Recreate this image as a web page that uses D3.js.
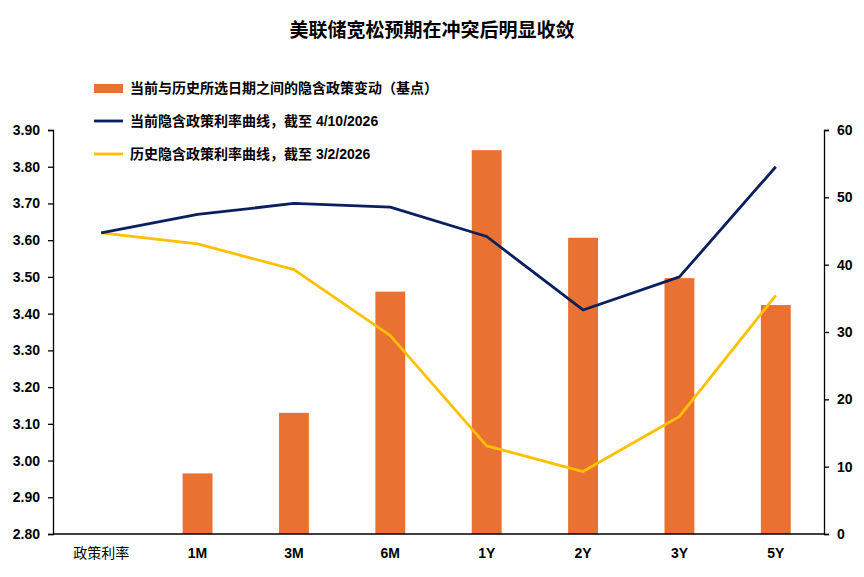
<!DOCTYPE html>
<html>
<head>
<meta charset="utf-8">
<script src="https://cdn.jsdelivr.net/npm/d3@7"></script>
<style>
  body { margin: 0; background: #fff; }
  text { font-family: "Liberation Sans", Arial, "Noto Sans CJK SC", sans-serif; }
</style>
</head>
<body>
<div id="wrapper"></div>
<script>
const categories = ["政策利率", "1M", "3M", "6M", "1Y", "2Y", "3Y", "5Y"];
const changeBp = [0, 9, 18, 36, 57, 44, 38, 34];
const currentCurve = [3.62, 3.67, 3.70, 3.69, 3.61, 3.41, 3.50, 3.80];
const historyCurve = [3.62, 3.59, 3.52, 3.34, 3.04, 2.97, 3.12, 3.45];
const leftTicks = [2.8, 2.9, 3.0, 3.1, 3.2, 3.3, 3.4, 3.5, 3.6, 3.7, 3.8, 3.9];
const rightTicks = [0, 10, 20, 30, 40, 50, 60];

const title = "美联储宽松预期在冲突后明显收敛";
const legendItems = [
  { label: "当前与历史所选日期之间的隐含政策变动（基点）", type: "bar", color: "#E97132" },
  { label: "当前隐含政策利率曲线，截至 4/10/2026", type: "line", color: "#0B1F5E" },
  { label: "历史隐含政策利率曲线，截至 3/2/2026", type: "line", color: "#FFC000" },
];

const dimensions = {
  width: 864,
  height: 577,
  margins: { top: 130, right: 40, bottom: 43, left: 53 },
};
dimensions.boundedWidth = dimensions.width - dimensions.margins.left - dimensions.margins.right;
dimensions.boundedHeight = dimensions.height - dimensions.margins.top - dimensions.margins.bottom;

const svg = d3.select("#wrapper").append("svg")
  .attr("width", dimensions.width)
  .attr("height", dimensions.height);

svg.append("text")
  .attr("x", 432).attr("y", 37)
  .attr("text-anchor", "middle")
  .style("font-size", "19px").style("font-weight", "bold")
  .text(title);

const bounds = svg.append("g")
  .attr("transform", `translate(${dimensions.margins.left},${dimensions.margins.top})`);

const xScale = d3.scaleBand()
  .domain(categories)
  .range([0, dimensions.boundedWidth])
  .paddingInner(0.69).paddingOuter(0.345);
const xCenter = d => xScale(d) + xScale.bandwidth() / 2;

const yLeft = d3.scaleLinear().domain([2.8, 3.9]).range([dimensions.boundedHeight, 0]);
const yRight = d3.scaleLinear().domain([0, 60]).range([dimensions.boundedHeight, 0]);

// bars
bounds.selectAll("rect.bar")
  .data(categories.map((c, i) => ({ c, v: changeBp[i] })).filter(d => d.v > 0))
  .join("rect")
  .attr("class", "bar")
  .attr("x", d => xScale(d.c))
  .attr("width", xScale.bandwidth())
  .attr("y", d => yRight(d.v))
  .attr("height", d => yRight(0) - yRight(d.v))
  .attr("fill", "#E97132");

// lines
const lineGen = d3.line()
  .x((d, i) => xCenter(categories[i]))
  .y(d => yLeft(d));

bounds.append("path")
  .attr("d", lineGen(historyCurve))
  .attr("fill", "none").attr("stroke", "#FFC000").attr("stroke-width", 2.8)
  .attr("stroke-linejoin", "round");
bounds.append("path")
  .attr("d", lineGen(currentCurve))
  .attr("fill", "none").attr("stroke", "#0B1F5E").attr("stroke-width", 2.8)
  .attr("stroke-linejoin", "round");

// axes
const leftAxis = d3.axisLeft(yLeft).tickValues(leftTicks).tickFormat(d3.format(".2f")).tickSizeOuter(0).tickSize(5).tickPadding(8);
const rightAxis = d3.axisRight(yRight).tickValues(rightTicks).tickSizeOuter(0).tickSize(5).tickPadding(8);

const gl = bounds.append("g").call(leftAxis);
const gr = bounds.append("g").attr("transform", `translate(${dimensions.boundedWidth},0)`).call(rightAxis);
[gl, gr].forEach(g => {
  g.selectAll("path, line").attr("stroke", "#000").attr("stroke-width", 1.3);
  g.selectAll("text").style("font-size", "14px").style("font-weight", "bold")
    .style("font-family", "'Liberation Sans', Arial, sans-serif").attr("fill", "#000");
});

// x baseline & labels
bounds.append("line")
  .attr("x1", 0).attr("x2", dimensions.boundedWidth)
  .attr("y1", dimensions.boundedHeight).attr("y2", dimensions.boundedHeight)
  .attr("stroke", "#000").attr("stroke-width", 1.3);
bounds.selectAll("text.xlabel")
  .data(categories)
  .join("text")
  .attr("class", "xlabel")
  .attr("x", d => xCenter(d))
  .attr("y", dimensions.boundedHeight + 24)
  .attr("text-anchor", "middle")
  .style("font-size", "14px")
  .style("font-weight", (d, i) => i === 0 ? "normal" : "bold")
  .text(d => d);

// legend
const legend = svg.append("g").attr("transform", "translate(94,88)");
legendItems.forEach((item, i) => {
  const g = legend.append("g").attr("transform", `translate(0,${i * 33})`);
  if (item.type === "bar") {
    g.append("rect").attr("x", 0).attr("y", -4).attr("width", 29).attr("height", 9).attr("fill", item.color);
  } else {
    g.append("line").attr("x1", 0).attr("x2", 29).attr("y1", 0).attr("y2", 0)
      .attr("stroke", item.color).attr("stroke-width", 2.8);
  }
  g.append("text").attr("x", 36).attr("y", 5)
    .style("font-size", "14px").style("font-weight", "bold")
    .text(item.label);
});
</script>
</body>
</html>
